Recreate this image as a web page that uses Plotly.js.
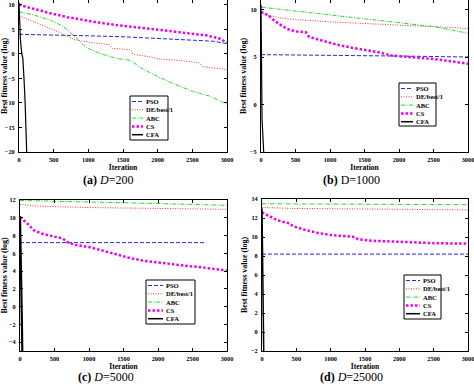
<!DOCTYPE html>
<html>
<head>
<meta charset="utf-8">
<script src="https://cdn.plot.ly/plotly-3.0.1.min.js"></script>
<style>html,body{margin:0;padding:0;background:#fff;}#chart{width:474px;height:386px;}</style>
</head>
<body>
<div id="chart"></div>
<script>
// ---------- data ----------
const seriesNames = ['PSO', 'DE/best/1', 'ABC', 'CS', 'CFA'];
const xTicks = [0, 500, 1000, 1500, 2000, 2500, 3000];
const captions = ['(a)', '(b)', '(c)', '(d)'];
const dimensions = ['200', '1000', '5000', '25000'];

// (a) D=200
const a_pso_x = [0, 500, 1000, 1500, 2000, 2500, 2800, 3000];
const a_pso_y = [4.0, 3.9, 3.7, 3.5, 3.2, 2.9, 2.6, 2.1];
const a_de_x = [0, 100, 200, 400, 600, 800, 1000, 1300, 1350, 1600, 1650, 1900, 2000, 2300, 2600, 2650, 3000];
const a_de_y = [7.8, 7.2, 6.6, 5.5, 4.3, 2.9, 2.4, 1.9, 1.1, 0.9, -0.1, -0.6, -1.0, -1.3, -1.8, -2.6, -3.2];
const a_abc_x = [0, 200, 450, 600, 700, 830, 980, 1170, 1400, 1600, 1650, 1750, 2000, 2250, 2500, 2750, 3000];
const a_abc_y = [8.6, 8.0, 6.9, 5.9, 4.9, 3.2, 1.2, 0.1, -0.9, -1.3, -1.7, -2.8, -4.6, -6.2, -7.6, -8.6, -10.3];
const a_cs_x = [0, 100, 300, 450, 700, 925, 1100, 1400, 1700, 2000, 2300, 2500, 2700, 2900, 3000];
const a_cs_y = [10.1, 9.6, 8.9, 8.3, 7.5, 6.9, 6.5, 5.9, 5.4, 5.0, 4.5, 4.2, 3.8, 3.1, 2.3];
const a_cfa_x = [0, 20, 39, 55, 72, 87, 111, 130];
const a_cfa_y = [10.5, 3, 0.1, -0.8, -5, -9.4, -20, -28];

// (b) D=1000
const b_pso_x = [0, 1000, 2000, 3000];
const b_pso_y = [5.25, 5.2, 5.1, 5.0];
const b_de_x = [0, 100, 300, 500, 1000, 1500, 2000, 2500, 3000];
const b_de_y = [9.7, 9.4, 9.1, 8.95, 8.7, 8.5, 8.35, 8.2, 8.0];
const b_abc_x = [0, 500, 1000, 1500, 2000, 2500, 3000];
const b_abc_y = [10.25, 9.85, 9.45, 9.0, 8.6, 8.2, 7.5];
const b_cs_x = [0, 100, 200, 300, 400, 500, 650, 700, 900, 1100, 1300, 1500, 1700, 1900, 2100, 2300, 2500, 2700, 3000];
const b_cs_y = [9.75, 9.4, 8.8, 8.3, 7.9, 7.7, 7.6, 7.1, 6.7, 6.3, 6.0, 5.75, 5.5, 5.15, 5.0, 4.9, 4.8, 4.6, 4.3];
const b_cfa_x = [0, 8, 15, 39, 55];
const b_cfa_y = [10.5, 3, -1.5, -5, -8];

// (c) D=5000
const c_pso_x = [0, 2700];
const c_pso_y = [7.2, 7.2];
const c_de_x = [0, 200, 500, 1000, 2000, 3000];
const c_de_y = [11.5, 11.35, 11.25, 11.15, 11.05, 10.95];
const c_abc_x = [0, 1000, 2000, 3000];
const c_abc_y = [11.95, 11.8, 11.6, 11.4];
const c_cs_x = [0, 100, 200, 300, 400, 500, 600, 650, 700, 800, 1000, 1200, 1400, 1600, 1800, 2000, 2200, 2400, 2600, 2800, 3000];
const c_cs_y = [10.05, 9.4, 8.6, 8.25, 8.05, 7.9, 7.7, 7.5, 7.2, 6.95, 6.7, 6.3, 5.9, 5.45, 5.15, 4.95, 4.75, 4.6, 4.45, 4.25, 4.05];
const c_cfa_x = [0, 10, 20, 28, 35];
const c_cfa_y = [10.2, 7, 2, -2, -6];

// (d) D=25000
const d_pso_x = [0, 3000];
const d_pso_y = [8.2, 8.2];
const d_de_x = [0, 500, 1500, 3000];
const d_de_y = [13.1, 13.0, 12.95, 12.85];
const d_abc_x = [0, 3000];
const d_abc_y = [13.5, 13.4];
const d_cs_x = [0, 100, 200, 300, 400, 450, 600, 800, 1000, 1200, 1350, 1400, 1600, 2000, 2500, 3000];
const d_cs_y = [12.6, 12.2, 11.85, 11.6, 11.45, 11.15, 10.8, 10.45, 10.2, 10.1, 10.0, 9.75, 9.6, 9.5, 9.35, 9.3];
const d_cfa_x = [0, 5, 10, 18, 25, 35];
const d_cfa_y = [13, 8, 5, 0, -2, -4];

// ---------- styling ----------
const W = 474, H = 386;
const SERIF = 'Liberation Serif, Times New Roman, serif';
const styles = [
  {color: '#2626e0', width: 1, dash: '4px,2px'},
  {color: '#ff3333', width: 1, dash: '1px,1.5px'},
  {color: '#22dd22', width: 1, dash: '4px,1.5px,1px,1.5px'},
  {color: '#ee00ee', width: 2.5, dash: '2.5px,2px'},
  {color: '#000000', width: 1.2, dash: 'solid'}
];
const cfaWidth = [1.2, 1.2, 2.2, 1.5];

// panel geometry in pixels
const panels = [
  {x0: 19, x1: 227, y0: 0, y1: 152, yr: [-20, 11], dt: 5, leg: {x: 130, y: 96, w: 38, h: 44, ll: 11}, cap: {x: 108, y: 180}, ital: true},
  {x0: 261, x1: 468, y0: 0, y1: 152, yr: [-5, 11], dt: 5, leg: {x: 399, y: 83, w: 37, h: 43, ll: 12}, cap: {x: 351, y: 180}, ital: false},
  {x0: 20, x1: 227, y0: 200, y1: 351, yr: [-5, 12], dt: 2, leg: {x: 146, y: 280, w: 49, h: 44, ll: 15}, cap: {x: 106, y: 377}, ital: true},
  {x0: 262, x1: 468, y0: 199, y1: 351, yr: [-2, 14], dt: 2, leg: {x: 404, y: 275, w: 37, h: 44, ll: 14}, cap: {x: 351, y: 377}, ital: true}
];
const px = v => v / W;
const py = v => 1 - v / H;

const allData = [
  [[a_pso_x, a_pso_y], [a_de_x, a_de_y], [a_abc_x, a_abc_y], [a_cs_x, a_cs_y], [a_cfa_x, a_cfa_y]],
  [[b_pso_x, b_pso_y], [b_de_x, b_de_y], [b_abc_x, b_abc_y], [b_cs_x, b_cs_y], [b_cfa_x, b_cfa_y]],
  [[c_pso_x, c_pso_y], [c_de_x, c_de_y], [c_abc_x, c_abc_y], [c_cs_x, c_cs_y], [c_cfa_x, c_cfa_y]],
  [[d_pso_x, d_pso_y], [d_de_x, d_de_y], [d_abc_x, d_abc_y], [d_cs_x, d_cs_y], [d_cfa_x, d_cfa_y]]
];

const traces = [];
const layout = {
  width: W, height: H,
  margin: {l: 0, r: 0, t: 0, b: 0},
  paper_bgcolor: '#ffffff', plot_bgcolor: '#ffffff',
  showlegend: false,
  font: {family: SERIF, color: '#000'},
  shapes: [], annotations: []
};

panels.forEach((p, i) => {
  const n = i === 0 ? '' : String(i + 1);
  const xa = 'x' + n, ya = 'y' + n;
  allData[i].forEach((s, k) => {
    const st = styles[k];
    traces.push({
      type: 'scatter', mode: 'lines', x: s[0], y: s[1], name: seriesNames[k],
      xaxis: xa, yaxis: ya, hoverinfo: 'skip',
      line: {color: st.color, width: k === 4 ? cfaWidth[i] : st.width, dash: st.dash}
    });
  });
  const axCommon = {
    showline: true, mirror: 'ticks', linecolor: '#000', linewidth: 1,
    ticks: 'inside', ticklen: 3, tickcolor: '#000', showgrid: false, zeroline: false,
    ticklabeloverflow: 'allow',
    tickfont: {family: SERIF, size: 6.3, weight: 'bold', color: '#000'}
  };
  layout['xaxis' + n] = Object.assign({}, axCommon, {
    domain: [px(p.x0), px(p.x1)], anchor: ya, range: [0, 3000],
    tickvals: xTicks, ticktext: xTicks.map(String), ticklabelstandoff: 1,
    title: {text: 'Iteration', font: {family: SERIF, size: 7.5, weight: 'bold'}, standoff: 0}
  });
  layout['yaxis' + n] = Object.assign({}, axCommon, {
    domain: [py(p.y1), py(p.y0)], anchor: xa, range: p.yr, dtick: p.dt, tick0: 0,
    ticklabelstandoff: 2,
    title: {text: 'Best fitness value (log)', font: {family: SERIF, size: 8, weight: 'bold'}, standoff: 2}
  });
  // legend box
  const L = p.leg;
  layout.shapes.push({type: 'rect', xref: 'paper', yref: 'paper',
    x0: px(L.x), x1: px(L.x + L.w), y0: py(L.y + L.h), y1: py(L.y),
    line: {color: '#000', width: 1}, fillcolor: '#fff', layer: 'above'});
  seriesNames.forEach((nm, k) => {
    const st = styles[k];
    const yy = L.y + 5.5 + k * 8.3;
    layout.shapes.push({type: 'line', xref: 'paper', yref: 'paper',
      x0: px(L.x + 2), x1: px(L.x + 2 + L.ll), y0: py(yy), y1: py(yy),
      line: {color: st.color, width: k === 4 ? 1.5 : st.width, dash: st.dash}, layer: 'above'});
    layout.annotations.push({xref: 'paper', yref: 'paper', x: px(L.x + 3 + L.ll), y: py(yy),
      xanchor: 'left', yanchor: 'middle', showarrow: false, text: nm,
      font: {family: SERIF, size: 6.5, weight: 'bold', color: '#000'}});
  });
  // caption
  const D = p.ital ? '<i>D</i>' : 'D';
  layout.annotations.push({xref: 'paper', yref: 'paper', x: px(p.cap.x), y: py(p.cap.y),
    xanchor: 'center', yanchor: 'middle', showarrow: false,
    text: '<b>' + captions[i] + '</b> ' + D + '=' + dimensions[i],
    font: {family: SERIF, size: 12, color: '#000'}});
});

Plotly.newPlot('chart', traces, layout, {staticPlot: true, displayModeBar: false});
</script>
</body>
</html>
